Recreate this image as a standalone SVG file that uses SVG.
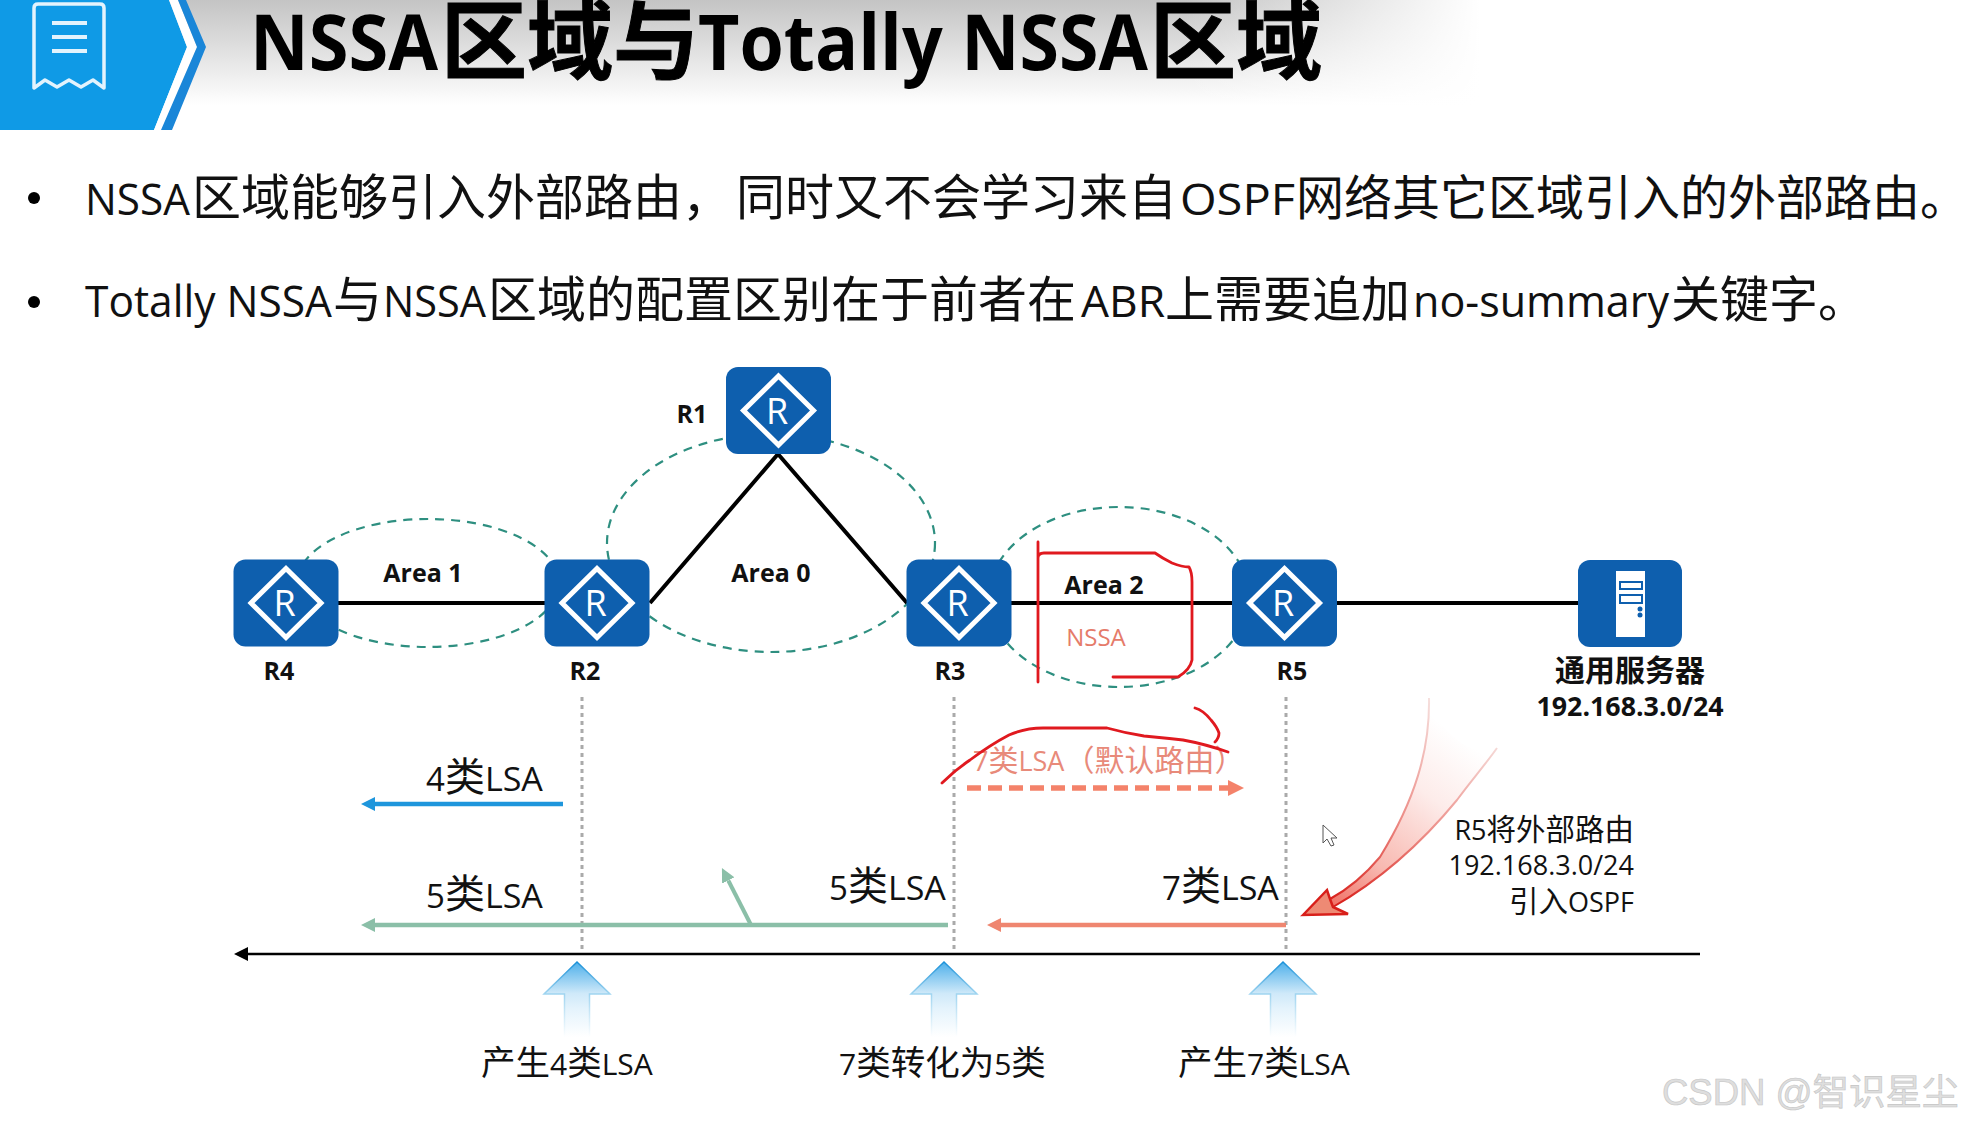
<svg xmlns="http://www.w3.org/2000/svg" width="1963" height="1126" viewBox="0 0 1963 1126">
<style>
text{font-family:"Open Sans","Noto Sans CJK SC",sans-serif;fill:#111}
.b{font-weight:700}
.m{text-anchor:middle}
.e{text-anchor:end}
.lb{font-size:25px;font-weight:700}
.z{font-family:"Noto Sans CJK SC",sans-serif}
.ttl{font-size:77px;font-weight:700;fill:#000}
.tz{font-family:"Noto Sans CJK SC",sans-serif;font-size:86px;font-weight:700;stroke:#000;stroke-width:1}
.body{font-size:43px}
.bz{font-family:"Noto Sans CJK SC",sans-serif;font-size:49px}
.lsa{font-size:33px}
.lz{font-family:"Noto Sans CJK SC",sans-serif;font-size:40px}
.cap{font-size:30px}
.cz{font-family:"Noto Sans CJK SC",sans-serif;font-size:34.500px}
.note{font-size:27px}
.nz{font-family:"Noto Sans CJK SC",sans-serif;font-size:29.500px}
.area{fill:none;stroke:#2e8f80;stroke-width:2.200;stroke-dasharray:9 7}
.hand{fill:none;stroke:#e0191f;stroke-width:2.800;stroke-linecap:round;stroke-linejoin:round}
.link{stroke:#000;stroke-width:4;fill:none}
.guide{stroke:#aaa;stroke-width:3;stroke-dasharray:4 4;fill:none}
.box{fill:#0e5fae}
</style>
<defs>
<linearGradient id="hdrV" x1="0" y1="0" x2="0" y2="1"><stop offset="0" stop-color="#c4c4c4"/><stop offset="1" stop-color="#fff"/></linearGradient>
<linearGradient id="hdrH" x1="0" y1="0" x2="1" y2="0"><stop offset="0" stop-color="#fff" stop-opacity="0"/><stop offset=".8" stop-color="#fff" stop-opacity="0"/><stop offset="1" stop-color="#fff"/></linearGradient>
<linearGradient id="up" x1="0" y1="0" x2="0" y2="1"><stop offset="0" stop-color="#4fb0ea"/><stop offset=".42" stop-color="#cfe9f9"/><stop offset=".62" stop-color="#e4f3fc"/><stop offset="1" stop-color="#fff"/></linearGradient>
<linearGradient id="upS" x1="0" y1="0" x2="0" y2="1"><stop offset="0" stop-color="#1890d8"/><stop offset=".42" stop-color="#9ed4f0"/><stop offset="1" stop-color="#fff"/></linearGradient>
<linearGradient id="redg" gradientUnits="userSpaceOnUse" x1="1320" y1="905" x2="1450" y2="730"><stop offset="0" stop-color="#ef6a5e"/><stop offset=".3" stop-color="#f8b8b0"/><stop offset=".7" stop-color="#fdecea"/><stop offset="1" stop-color="#fff"/></linearGradient>
<linearGradient id="reds" gradientUnits="userSpaceOnUse" x1="1330" y1="900" x2="1440" y2="700"><stop offset="0" stop-color="#d81f1a"/><stop offset=".45" stop-color="#ec8a84"/><stop offset="1" stop-color="#f6e2e0"/></linearGradient>
<g id="router"><rect x="-52.500" y="-43.500" width="105" height="87" rx="12" class="box"/><path d="M0-34.500 35 0 0 34.500-35 0Z" fill="none" stroke="#fff" stroke-width="5"/><text x="-1.500" y="13" class="m" font-size="36" style="fill:#fff">R</text></g>
<marker id="hBlue" viewBox="0 0 14 14" refX="0" refY="7" markerUnits="userSpaceOnUse" markerWidth="14" markerHeight="14" orient="auto"><path d="M0 0 14 7 0 14Z" fill="#1e96dc"/></marker>
<marker id="hGreen" viewBox="0 0 14 14" refX="0" refY="7" markerUnits="userSpaceOnUse" markerWidth="14" markerHeight="14" orient="auto"><path d="M0 0 14 7 0 14Z" fill="#8bbfa8"/></marker>
<marker id="hSalmon" viewBox="0 0 14 14" refX="0" refY="7" markerUnits="userSpaceOnUse" markerWidth="14" markerHeight="14" orient="auto"><path d="M0 0 14 7 0 14Z" fill="#ef8670"/></marker>
<marker id="hBlack" viewBox="0 0 14 14" refX="0" refY="7" markerUnits="userSpaceOnUse" markerWidth="14" markerHeight="14" orient="auto"><path d="M0 0 14 7 0 14Z" fill="#000"/></marker>
<path id="upArrow" d="M0 0 33 32H12.500V75H-12.500V32H-33Z" fill="url(#up)" stroke="url(#upS)" stroke-width="1.500"/>
</defs>
<rect width="1963" height="1126" fill="#fff"/>
<g id="header">
<rect width="1480" height="105" fill="url(#hdrV)"/><rect width="1480" height="105" fill="url(#hdrH)"/>
<path d="M0 0H169L187 47 154 130H0Z" fill="#0f9ae6"/>
<path d="M169 0 187 47 154 130H161L197 47 178 0Z" fill="#fff"/>
<path d="M178 0 197 47 161 130H172L206 47 186 0Z" fill="#1a86d8"/>
<path d="M38 4H100Q104 4 104 8V88L93 80 81 87 69 80 57 87 45 80 34 88V8Q34 4 38 4Z" fill="none" stroke="#e3f3fd" stroke-width="3.500" stroke-linejoin="round"/>
<path d="M52 23H87M52 37H87M52 51H87" stroke="#e3f3fd" stroke-width="4" fill="none"/>
<text y="70" class="ttl"><tspan x="250" textLength="188" lengthAdjust="spacingAndGlyphs">NSSA</tspan><tspan x="441" y="73" class="tz">区域与</tspan><tspan x="698" y="70" textLength="450" lengthAdjust="spacingAndGlyphs">Totally NSSA</tspan><tspan x="1150" y="73" class="tz">区域</tspan></text>
</g>
<g id="bullets">
<circle cx="34" cy="198" r="6" fill="#000"/><circle cx="34" cy="302" r="6" fill="#000"/>
<text y="215" class="body"><tspan x="85" textLength="105" lengthAdjust="spacingAndGlyphs">NSSA</tspan><tspan x="192" class="bz">区域能够引入外部路由，</tspan><tspan x="736" class="bz">同时又不会学习来自</tspan><tspan x="1180" textLength="115" lengthAdjust="spacingAndGlyphs">OSPF</tspan><tspan x="1296" class="bz" style="font-size:48px">网络其它区域引入的外部路由。</tspan></text>
<text y="317" class="body"><tspan x="85" textLength="247" lengthAdjust="spacingAndGlyphs">Totally NSSA</tspan><tspan x="333" class="bz">与</tspan><tspan x="383" textLength="103" lengthAdjust="spacingAndGlyphs">NSSA</tspan><tspan x="488" class="bz">区域的配置区别在于前者在</tspan><tspan x="1081" textLength="84" lengthAdjust="spacingAndGlyphs">ABR</tspan><tspan x="1165" class="bz">上需要追加</tspan><tspan x="1413" textLength="256" lengthAdjust="spacingAndGlyphs">no-summary</tspan><tspan x="1671" class="bz">关键字。</tspan></text>
</g>
<g id="areas">
<ellipse cx="428" cy="583" rx="131" ry="64" class="area"/>
<ellipse cx="771" cy="543" rx="164" ry="109" class="area"/>
<ellipse cx="1119" cy="597" rx="130" ry="90" class="area"/>
</g>
<g id="connectors">
<path class="link" d="M338 603H545M650 603 778 454 907 603M1011 603H1232M1337 603H1578"/>
<path class="guide" d="M582 697V953M954 697V953M1286 697V953"/>
<path d="M563 804H375" stroke="#1e96dc" stroke-width="4.500" marker-end="url(#hBlue)" fill="none"/>
<path d="M948 925H375" stroke="#8bbfa8" stroke-width="4.500" marker-end="url(#hGreen)" fill="none"/>
<path d="M751 925 728.300 880.500" stroke="#8bbfa8" stroke-width="4" marker-end="url(#hGreen)" fill="none"/>
<path d="M1286 925H1001" stroke="#ef8670" stroke-width="4.500" marker-end="url(#hSalmon)" fill="none"/>
<path d="M967 788H1228" stroke="#f4826a" stroke-width="5.500" stroke-dasharray="14 7" fill="none"/>
<path d="M1228 780 1244 788 1228 796Z" fill="#f4826a"/>
<path d="M1700 954H248" stroke="#000" stroke-width="2.500" marker-end="url(#hBlack)" fill="none"/>
<path d="M1429 698C1430 750 1415 800 1380 857 1365 875 1350 888 1330 899L1333 907C1380 880 1420 845 1457 800 1470 782 1485 765 1497 748 1470 760 1440 730 1429 698Z" fill="url(#redg)"/>
<path d="M1429 698C1430 750 1415 800 1380 857 1365 875 1350 888 1330 899M1333 907C1380 880 1420 845 1457 800 1470 782 1485 765 1497 748" fill="none" stroke="url(#reds)" stroke-width="2"/>
<path d="M1303 915 1327 890 1330 899 1333 907 1348 914Z" fill="#ee8a74" stroke="#d81f1a" stroke-width="2.500" stroke-linejoin="miter"/>
<use href="#upArrow" x="577" y="962"/><use href="#upArrow" x="944" y="962"/><use href="#upArrow" x="1283" y="962"/>
</g>
<g id="R4"><use href="#router" x="286" y="603"/><text x="279" y="680" class="lb m">R4</text></g>
<g id="R2"><use href="#router" x="597" y="603"/><text x="585" y="680" class="lb m">R2</text></g>
<g id="R1"><use href="#router" x="778.500" y="410.500"/><text x="692" y="423" class="lb m">R1</text></g>
<g id="R3"><use href="#router" x="959" y="603"/><text x="950" y="680" class="lb m">R3</text></g>
<g id="R5"><use href="#router" x="1284.500" y="603"/><text x="1292" y="680" class="lb m">R5</text></g>
<g id="server">
<rect x="1578" y="560" width="104" height="87" rx="12" class="box"/>
<rect x="1616" y="571" width="29" height="66" fill="#fff"/>
<path d="M1620 582H1642V589H1620ZM1620 595H1642V603H1620Z" fill="none" stroke="#0e5fae" stroke-width="2"/>
<circle cx="1640" cy="609" r="2.500" fill="#0e5fae"/><circle cx="1640" cy="615" r="2.500" fill="#0e5fae"/>
<text x="1630" y="681" class="b m z" font-size="30">通用服务器</text>
<text x="1630" y="716" class="b m" font-size="26" textLength="187" lengthAdjust="spacingAndGlyphs">192.168.3.0/24</text>
</g>
<g id="labels">
<text x="423" y="582" class="lb m">Area 1</text>
<text x="771" y="582" class="lb m">Area 0</text>
<text x="1104" y="594" class="lb m">Area 2</text>
<text x="1096" y="646" class="m" font-size="24" style="fill:#e57b6a">NSSA</text>
<text x="973" y="771" font-size="27" style="fill:#e88a7a">7<tspan class="z" font-size="30">类</tspan>LSA<tspan class="z" font-size="30">（默认路由）</tspan></text>
<text x="426" y="791" class="lsa">4<tspan class="lz">类</tspan><tspan textLength="58" lengthAdjust="spacingAndGlyphs">LSA</tspan></text>
<text x="426" y="908" class="lsa">5<tspan class="lz">类</tspan><tspan textLength="58" lengthAdjust="spacingAndGlyphs">LSA</tspan></text>
<text x="829" y="900" class="lsa">5<tspan class="lz">类</tspan><tspan textLength="58" lengthAdjust="spacingAndGlyphs">LSA</tspan></text>
<text x="1162" y="900" class="lsa">7<tspan class="lz">类</tspan><tspan textLength="58" lengthAdjust="spacingAndGlyphs">LSA</tspan></text>
<text x="1634" y="840" class="note e">R5<tspan class="nz">将外部路由</tspan></text>
<text x="1634" y="875" class="note e">192.168.3.0/24</text>
<text x="1634" y="912" class="note e"><tspan class="nz">引入</tspan>OSPF</text>
<text x="481" y="1075" class="cap"><tspan class="cz">产生</tspan>4<tspan class="cz">类</tspan>LSA</text>
<text x="839" y="1075" class="cap">7<tspan class="cz">类转化为</tspan>5<tspan class="cz">类</tspan></text>
<text x="1178" y="1075" class="cap"><tspan class="cz">产生</tspan>7<tspan class="cz">类</tspan>LSA</text>
<text x="1662" y="1105" font-size="36.500" style="font-family:'Liberation Sans','Noto Sans CJK SC',sans-serif;fill:#dedede;stroke:#c4c4c4;stroke-width:.6">CSDN @智识星尘</text>
</g>
<g id="handwriting">
<path class="hand" d="M1038 542V682M1038 558Q1038 553 1044 553H1155Q1162 558 1172 563 1182 567 1189 567 1192 572 1192 582V660Q1190 670 1178 677H1113"/>
<path class="hand" d="M942 783Q955 770 970 760 990 745 1009 735 1025 728 1043 728H1107Q1125 733 1144 736 1165 738 1183 740 1205 744 1228 752M1195 708Q1203 710 1211 720 1217 727 1219 733 1219 738 1215 742"/>
</g>
<path id="cursor" d="M1323 825V843L1327 839 1331 846 1334 845 1331 838H1337Z" fill="#fff" stroke="#555" stroke-width="1"/>
</svg>
